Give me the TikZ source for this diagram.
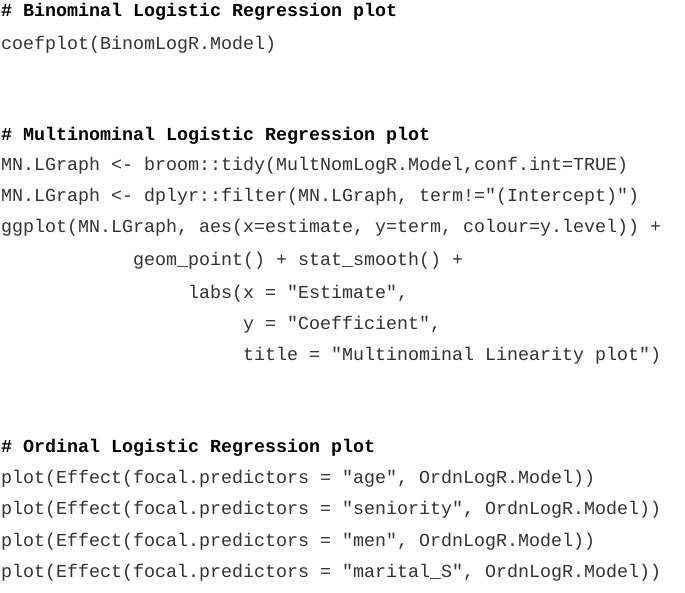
\documentclass[tikz,border=0pt]{standalone}
\usepackage{fontspec}
\setmonofont{Liberation Mono}
\begin{document}
\begin{tikzpicture}[x=1pt,y=-1pt,
  code/.style={anchor=base west,inner sep=0pt,font=\ttfamily\fontsize{18.33}{20}\selectfont,text=black!80},
  head/.style={code,font=\ttfamily\bfseries\fontsize{18.33}{20}\selectfont,text=black}]
\useasboundingbox (0,0) rectangle (685,592);
\node[head] (h1) at (1,16) {\# Binominal Logistic Regression plot};
\node[code] (l1) at (1,49) {coefplot(BinomLogR.Model)};
\node[head] (h2) at (1,140) {\# Multinominal Logistic Regression plot};
\node[code] (l2) at (1,170) {MN.LGraph <- broom::tidy(MultNomLogR.Model,conf.int=TRUE)};
\node[code] (l3) at (1,201) {MN.LGraph <- dplyr::filter(MN.LGraph, term!="(Intercept)")};
\node[code] (l4) at (1,232) {ggplot(MN.LGraph, aes(x=estimate, y=term, colour=y.level)) +};
\node[code] (l5) at (133,265) {geom\_point() + stat\_smooth() +};
\node[code] (l6) at (188,298) {labs(x = "Estimate",};
\node[code] (l7) at (243,329) {y = "Coefficient",};
\node[code] (l8) at (243,360) {title = "Multinominal Linearity plot")};
\node[head] (h3) at (1,452) {\# Ordinal Logistic Regression plot};
\node[code] (l9) at (1,483) {plot(Effect(focal.predictors = "age", OrdnLogR.Model))};
\node[code] (l10) at (1,514) {plot(Effect(focal.predictors = "seniority", OrdnLogR.Model))};
\node[code] (l11) at (1,546) {plot(Effect(focal.predictors = "men", OrdnLogR.Model))};
\node[code] (l12) at (1,577) {plot(Effect(focal.predictors = "marital\_S", OrdnLogR.Model))};
\end{tikzpicture}
\end{document}
